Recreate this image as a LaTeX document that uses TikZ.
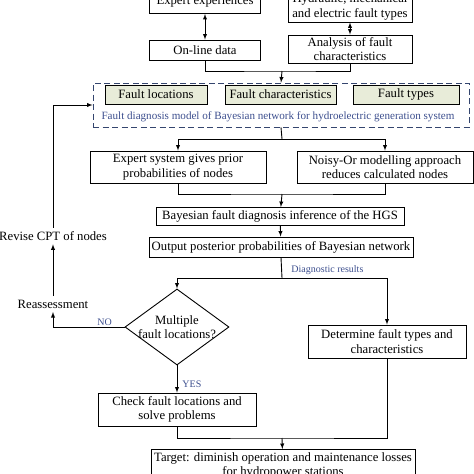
\documentclass[tikz,border=0pt]{standalone}
\usepackage{fontspec}
\setmainfont{Liberation Serif}
\usetikzlibrary{shapes.geometric}

\definecolor{capblue}{HTML}{3D4F8E}
\definecolor{faultfill}{HTML}{E8ECD9}
\definecolor{dashblue}{HTML}{34456E}

\begin{document}
\begin{tikzpicture}[x=1pt, y=-1pt, line width=0.9pt,
    every node/.style={font=\fontsize{12.7}{14.5}\selectfont},
    block/.style={draw, align=center, inner sep=1pt},
    fault/.style={draw, fill=faultfill, minimum height=19pt, inner sep=1pt},
    decision/.style={draw, diamond, aspect=1.37, inner sep=-8pt, minimum width=104pt, minimum height=76pt, align=center},
    tag/.style={text=capblue, font=\fontsize{10}{12}\selectfont, inner sep=1pt}]
    \useasboundingbox (0,0) rectangle (474,474);
    \clip (0,0) rectangle (474,474);
    % inputs
    \node[block, minimum width=111pt, minimum height=23pt] (expexp) at (205,2) {Expert experiences};
    \node[block, minimum width=111pt, minimum height=20pt] (online) at (205,50) {On-line data};
    \node[block, minimum width=124pt, minimum height=30pt] (hydtypes) at (350,7) {Hydraulic, mechanical\\and electric fault types};
    \node[block, minimum width=124pt, minimum height=28pt] (analysis) at (350,49) {Analysis of fault\\characteristics};
    % Bayesian network model
    \node[draw=dashblue, dash pattern=on 6pt off 3.5pt, minimum width=376pt, minimum height=44pt] (model) at (281,105) {};
    \node[fault, minimum width=102pt] (floc) at (156,94.5) {Fault locations};
    \node[fault, minimum width=111pt] (fchar) at (280.5,94.5) {Fault characteristics};
    \node[fault, minimum width=106pt] (ftype) at (406,94.5) {Fault types};
    \node[tag, font=\fontsize{11.1}{13}\selectfont] (modelcap) at (278,117) {Fault diagnosis model of Bayesian network for hydroelectric generation system};
    % inference
    \node[block, minimum width=176pt, minimum height=32pt] (prior) at (178,167) {Expert system gives prior\\probabilities of nodes};
    \node[block, minimum width=176pt, minimum height=32pt] (noisy) at (385,167) {Noisy-Or modelling approach\\reduces calculated nodes};
    \node[block, minimum width=248pt, minimum height=18pt] (infer) at (280,216.5) {Bayesian fault diagnosis inference of the HGS};
    \node[block, minimum width=264pt, minimum height=20pt] (post) at (281,247) {Output posterior probabilities of Bayesian network};
    % results
    \node[decision] (multi) at (177,327) {Multiple\\fault locations?};
    \node[block, minimum width=158pt, minimum height=33pt] (determ) at (387,341.5) {Determine fault types and\\characteristics};
    \node[block, minimum width=158pt, minimum height=33pt] (check) at (177,409.5) {Check fault locations and\\solve problems};
    \node[block, minimum width=264pt, minimum height=32pt, anchor=north] (target) at (283,449) {Target: diminish operation and maintenance losses\\for hydropower stations};
    \node (revise) at (53,236) {Revise CPT of nodes};
    \node (reass) at (53,304) {Reassessment};
    \node[tag, anchor=south west] (diag) at (290,276) {Diagnostic results};
    % junctions
    \coordinate (j1) at (282,71);
    \coordinate (j2) at (282,139);
    \coordinate (j3) at (282,194);
    \coordinate (j4) at (282,278);
    \coordinate (j5) at (282,438);
    \draw[latex-latex] (expexp) -- (online);
    \draw[latex-latex] (hydtypes) -- (analysis);
    \draw (online.south) |- (j1) -| (analysis.south);
    \draw[-latex] (j1) -- (model.north);
    \draw (model.south) -- (j2);
    \draw[-latex] (j2) -| (prior.north);
    \draw[-latex] (j2) -| (noisy.north);
    \draw (prior.south) |- (j3) -| (noisy.south);
    \draw[-latex] (j3) -- (infer);
    \draw[-latex] (infer) -- (post);
    \draw (post.south) -- (j4);
    \draw[-latex] (j4) -| (multi.north);
    \draw[-latex] (j4) -| (determ.north);
    \draw[-latex] (multi.south) -- node[tag, right, pos=0.7, xshift=4pt] {YES} (check.north);
    \draw[-latex] (multi.west) -| node[tag, above, pos=0.14] {NO} (reass.south);
    % feedback
    \draw[-latex] (reass) -- (revise);
    \draw[-latex] (revise.north) |- (model.west);
    \draw (check.south) |- (j5) -| (determ.south);
    \draw[-latex] (j5) -- (target);
\end{tikzpicture}
\end{document}
